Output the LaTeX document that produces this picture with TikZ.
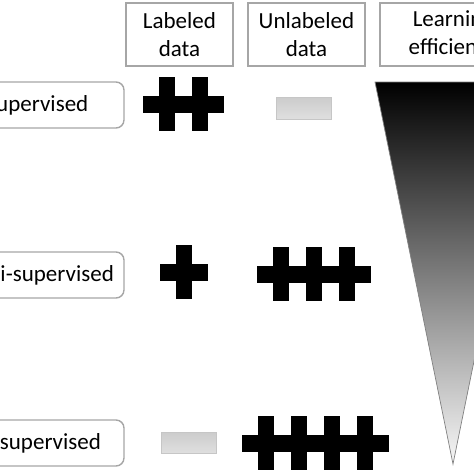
\documentclass[tikz,border=0pt]{standalone}
\usepackage{fontspec}
\setmainfont{Carlito}
\usepackage{tikz}
% a row of crosses: left x, middle y, number of bars
\newcommand\crossrow[3]{%
  \fill (#1,#2-8.5) rectangle ++(48+33*#3-33,17);
  \foreach \k in {1,...,#3}{\fill (#1-17+33*\k,#2-27) rectangle ++(16,54);}
}

\begin{document}
\begin{tikzpicture}[x=0.02cm, y=-0.02cm, every node/.style={font=\fontsize{13.1pt}{16pt}\selectfont},
  headbox/.style={draw=gray!70, line width=0.8pt, fill=white, align=center, minimum height=1.26cm},
  rowbox/.style={draw=gray!70, line width=0.8pt, rounded corners=0.16cm, minimum width=3.48cm, minimum height=0.92cm},
  nodata/.style={draw=gray!45, top color=gray!40, bottom color=gray!25}]
  \useasboundingbox (0,0) rectangle (474,474);
  \clip (0,0) rectangle (474,474);
  \node[headbox, minimum width=2.14cm] (lab) at (179.5,34.5) {Labeled\\data};
  \node[headbox, minimum width=2.34cm] (unlab) at (306.5,34.5) {Unlabeled\\data};
  \node[headbox, minimum width=2.92cm] (eff) at (453,34.5) {Learning\\efficiency};
  \node[rowbox] (sup) at (37,105) {Supervised};
  \node[rowbox] (semi) at (37,275) {Semi-supervised};
  \node[rowbox] (unsup) at (37,443) {Unsupervised};
  \crossrow{143}{104}{2}
  \crossrow{160}{272}{1}
  \crossrow{257}{274}{3}
  \crossrow{242}{443}{4}
  \draw[nodata] (276,97) rectangle (331,119);
  \draw[nodata] (161,432) rectangle (216,453);
  \draw[draw=gray, top color=black, middle color=black!28, bottom color=black!3] (375,82) -- (531,82) -- (453,464) -- cycle;
\end{tikzpicture}
\end{document}
